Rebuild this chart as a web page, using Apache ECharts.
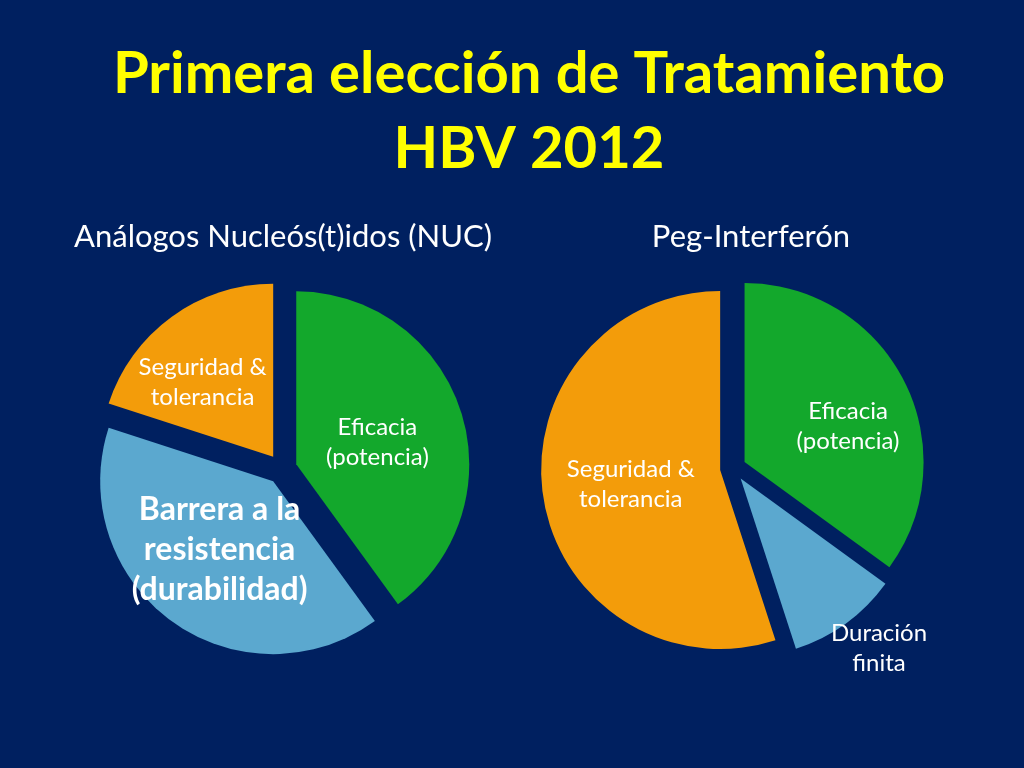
<!DOCTYPE html>
<html>
<head>
<meta charset="utf-8">
<title>Primera elección de Tratamiento HBV 2012</title>
<script src="https://cdn.jsdelivr.net/npm/echarts@6/dist/echarts.min.js"></script>
<style>
  html, body { margin: 0; padding: 0; background: #002060; }
  #main { width: 1024px; height: 768px; }
</style>
</head>
<body>
<div id="main"></div>
<script>
// data
var nucNames = ['Eficacia\n(potencia)', 'Barrera a la\nresistencia\n(durabilidad)', 'Seguridad &\ntolerancia'];
var nucValues = [40, 40, 20];
var pegNames = ['Eficacia\n(potencia)', 'Duración\nfinita', 'Seguridad &\ntolerancia'];
var pegValues = [35, 10, 55];
var sliceColors = ['#13a82c', '#5ba8cf', '#f39c0a'];

var font = 'Lato';

// label nudges from the default inside position
var nucShift = [[-4, 6], [-1, -4], [-18, -2]];
var pegShift = [[21, 6], [84, 95], [2, 0]];

var myChart = echarts.init(document.getElementById('main'));

function buildData(names, values, boldIndex) {
    return names.map(function (n, i) {
        var item = {
            name: n,
            value: values[i],
            selected: true,
            itemStyle: { color: sliceColors[i] }
        };
        if (i === boldIndex) {
            item.label = { fontSize: 32, fontWeight: 'bold', lineHeight: 40 };
        }
        return item;
    });
}

function pieSeries(names, values, center, radius, offset, shift, boldIndex) {
    return {
        type: 'pie',
        center: center,
        radius: radius,
        startAngle: 90,
        clockwise: true,
        selectedMode: 'multiple',
        selectedOffset: offset,
        avoidLabelOverlap: false,
        animation: false,
        emphasis: { disabled: true },
        itemStyle: { borderWidth: 0 },
        label: {
            show: true,
            position: 'inside',
            formatter: '{b}',
            color: '#ffffff',
            fontFamily: font,
            fontSize: 24,
            lineHeight: 30,
            align: 'center'
        },
        labelLine: { show: false },
        labelLayout: function (p) {
            var s = shift[p.dataIndex];
            return { dx: s[0], dy: s[1] };
        },
        data: buildData(names, values, boldIndex)
    };
}

var option = {
    backgroundColor: '#002060',
    animation: false,
    title: [
        {
            text: 'Primera elección de Tratamiento\nHBV 2012',
            left: 529,
            top: 37,
            padding: 0,
            textAlign: 'center',
            textStyle: {
                color: '#ffff00',
                fontFamily: font,
                fontWeight: 'bold',
                fontSize: 58,
                lineHeight: 75
            }
        },
        {
            text: 'Análogos Nucleós(t)idos (NUC)',
            left: 283,
            top: 219,
            padding: 0,
            textAlign: 'center',
            textStyle: { color: '#ffffff', fontFamily: font, fontWeight: 'normal', fontSize: 31, lineHeight: 36 }
        },
        {
            text: 'Peg-Interferón',
            left: 751,
            top: 219,
            padding: 0,
            textAlign: 'center',
            textStyle: { color: '#ffffff', fontFamily: font, fontWeight: 'normal', fontSize: 31, lineHeight: 36 }
        }
    ],
    series: [
        pieSeries(nucNames, nucValues, [282, 469], 173, 15, nucShift, 1),
        pieSeries(pegNames, pegValues, [733, 468], 179, 13, pegShift, -1)
    ]
};

myChart.setOption(option);
</script>
</body>
</html>
